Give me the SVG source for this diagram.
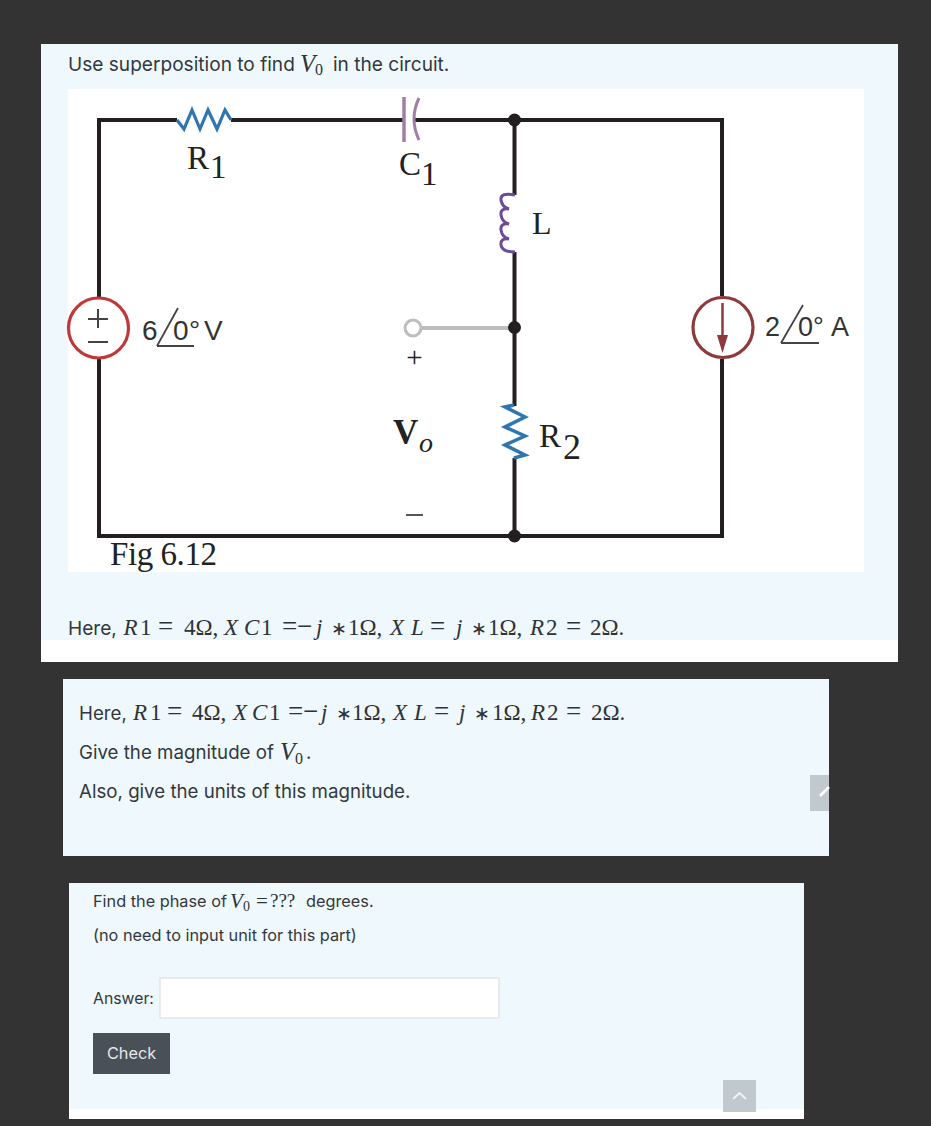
<svg xmlns="http://www.w3.org/2000/svg" width="931" height="1126" viewBox="0 0 931 1126">
<style>
.ui{font-family:Inter,"Liberation Sans",sans-serif;fill:#33383c}
.t1{font-size:19.1px}.t2{font-size:18.7px}.t3{font-size:16.3px}
.m{font-family:"Liberation Serif",serif;font-size:23px;fill:#2e3338}
.eq{font-size:27px}.st{font-size:19px}
.v{font-size:25px;font-style:italic}
.i{font-style:italic}.sub{font-size:16px}
.lab{font-family:"Liberation Serif",serif;fill:#222;font-size:33px}
.src{font-family:"Liberation Sans",sans-serif;fill:#333;font-size:28px}
.w{fill:none;stroke:#231f20;stroke-width:4}
.ang{fill:none;stroke:#444;stroke-width:1.800}
</style>
<rect width="931" height="1126" fill="#333333"/>
<g id="panel-top">
<rect x="41" y="44" width="857" height="618" fill="#fff"/>
<rect x="41" y="44" width="857" height="596" fill="#eff8fd"/>
<rect x="68" y="89" width="796" height="483" fill="#fff"/>
<text class="ui t1" x="68" y="71">Use superposition to find</text>
<text class="m v" x="300" y="72">V</text><text class="m sub" x="315" y="75">0</text>
<text class="ui t1" x="333" y="71">in the circuit.</text>
</g>
<g id="connectors">
<path class="w" d="M99 297V120H177M231 120H404M414 120H722V296M722 359V536H99V358"/>
<path class="w" d="M514.500 120V195M514.500 252V406M514.500 458V536"/>
<path d="M421 328H514" fill="none" stroke="#bdbdbd" stroke-width="4"/>
</g>
<g id="R1"><path d="M177 120L184 129L192 110L200 129L208 110L217 129L225 110L231 120" fill="none" stroke="#2f75b0" stroke-width="3.200"/>
<text class="lab" x="187" y="169">R</text><text class="lab" x="210" y="178">1</text></g>
<g id="C1"><path d="M404 97V142" stroke="#a07fa6" stroke-width="3.500" fill="none"/><path d="M419 98Q409 119 419 140" stroke="#a07fa6" stroke-width="3" fill="none"/>
<text class="lab" x="399" y="175">C</text><text class="lab" x="421" y="185">1</text></g>
<g id="L"><path d="M515 195Q500 192 501 200Q502 207 509 209Q500 208 501 215Q502 222 509 224Q500 223 501 230Q502 237 509 239Q500 238 501 245Q502 252 515 252" fill="none" stroke="#6b4c9a" stroke-width="3"/>
<text class="lab" x="532" y="234" style="font-size:32px">L</text></g>
<g id="R2"><path d="M514 405L505 407L525 417L505 427L525 436L505 445L525 455L514 458" fill="none" stroke="#2f75b0" stroke-width="3.500"/>
<text class="lab" x="539" y="447">R</text><text class="lab" x="563" y="459" style="font-size:36px">2</text></g>
<g id="node-top"><circle cx="514.500" cy="120" r="6.500" fill="#231f20"/></g>
<g id="node-mid"><circle cx="514.500" cy="327.500" r="6.500" fill="#231f20"/></g>
<g id="node-bottom"><circle cx="514.500" cy="536" r="6.500" fill="#231f20"/></g>
<g id="V-source"><circle cx="98.500" cy="328" r="30" fill="#fff" stroke="#c0383a" stroke-width="3.200"/>
<path d="M98 309V328M88 319H108M88 342H108" fill="none" stroke="#444" stroke-width="2"/>
<text class="src" x="142" y="340">6</text><path class="ang" d="M157 346H194M157 346L178 308"/><text class="src" x="173" y="340">0</text><text class="src" x="189" y="340">°</text><text class="src" x="204" y="340">V</text></g>
<g id="I-source"><circle cx="723" cy="327.500" r="30" fill="#fff" stroke="#8e3a3c" stroke-width="3.200"/>
<path d="M722.500 303V340" stroke="#8e3a3c" stroke-width="2.500" fill="none"/><path d="M717 335H728L722.500 353Z" fill="#8e3a3c"/>
<text class="src" x="765" y="336" style="font-size:27px">2</text><path class="ang" d="M781 343H819M781 343L803 305"/><text class="src" x="798" y="336" style="font-size:27px">0</text><text class="src" x="813" y="336" style="font-size:27px">°</text><text class="src" x="831" y="336" style="font-size:27px">A</text></g>
<g id="Vo-terminal"><circle cx="413" cy="328" r="8" fill="#fff" stroke="#bdbdbd" stroke-width="3"/>
<text class="lab" x="414.500" y="367" text-anchor="middle" style="font-size:29px">+</text>
<text class="lab" x="393" y="444" style="font-size:35px;font-weight:bold">V</text><text class="lab i" x="419" y="452" style="font-size:28px">o</text>
<path d="M406 515H423" stroke="#444" stroke-width="1.800"/></g>
<text id="fig" class="lab" x="110" y="565" textLength="107">Fig 6.12</text>
<g id="eq1">
<text class="ui t1" x="68" y="635">Here,</text>
<text class="m i" x="123.500" y="635">R</text><text class="m" x="140" y="635">1</text><text class="m eq" x="158" y="635">=</text><text class="m" x="184" y="635">4Ω,</text>
<text class="m i" x="224" y="635">X</text><text class="m i" x="244" y="635">C</text><text class="m" x="261" y="635">1</text><text class="m eq" x="282" y="635">=</text><text class="m eq" x="297" y="635">−</text><text class="m i" x="316" y="635">j</text><text class="m st" x="331" y="635">∗</text><text class="m" x="348" y="635">1Ω,</text>
<text class="m i" x="390" y="635">X</text><text class="m i" x="411" y="635">L</text><text class="m eq" x="430" y="635">=</text><text class="m i" x="456" y="635">j</text><text class="m st" x="471" y="635">∗</text><text class="m" x="488" y="635">1Ω,</text>
<text class="m i" x="530" y="635">R</text><text class="m" x="546" y="635">2</text><text class="m eq" x="566" y="635">=</text><text class="m" x="590" y="635">2Ω.</text>
</g>
<g id="panel-mid">
<rect x="63" y="679" width="766" height="177" fill="#eff8fd"/>
<rect x="810" y="775" width="19" height="36" fill="#c1c9cf"/>
<path d="M820 796L829 787" stroke="#fff" stroke-width="2.500" fill="none"/>
<text class="ui t2" x="79" y="720">Here,</text>
<text class="m i" x="133" y="720">R</text><text class="m" x="150" y="720">1</text><text class="m eq" x="167" y="720">=</text><text class="m" x="192" y="720">4Ω,</text>
<text class="m i" x="233" y="720">X</text><text class="m i" x="252" y="720">C</text><text class="m" x="269" y="720">1</text><text class="m eq" x="288" y="720">=</text><text class="m eq" x="303" y="720">−</text><text class="m i" x="321" y="720">j</text><text class="m st" x="336" y="720">∗</text><text class="m" x="352" y="720">1Ω,</text>
<text class="m i" x="393" y="720">X</text><text class="m i" x="414" y="720">L</text><text class="m eq" x="434" y="720">=</text><text class="m i" x="459" y="720">j</text><text class="m st" x="474" y="720">∗</text><text class="m" x="492" y="720">1Ω,</text>
<text class="m i" x="531" y="720">R</text><text class="m" x="547" y="720">2</text><text class="m eq" x="566" y="720">=</text><text class="m" x="591" y="720">2Ω.</text>
<text class="ui t2" x="79" y="759">Give the magnitude of</text>
<text class="m v" x="280" y="760">V</text><text class="m sub" x="295" y="764">0</text><text class="ui t2" x="306" y="759">.</text>
<text class="ui t2" x="79" y="798">Also, give the units of this magnitude.</text>
</g>
<g id="panel-bottom">
<rect x="69" y="883" width="735" height="236" fill="#fff"/>
<rect x="69" y="883" width="735" height="226" fill="#eff8fd"/>
<text class="ui t3" x="93" y="907">Find the phase of</text>
<text class="m i" x="230" y="908" style="font-size:21px">V</text><text class="m" x="243" y="911" style="font-size:14px">0</text>
<text class="m" x="256" y="908" style="font-size:21px">=</text><text class="m" x="270" y="907" style="font-size:19px">???</text>
<text class="ui t3" x="306" y="907">degrees.</text>
<text class="ui t3" x="93" y="941">(no need to input unit for this part)</text>
<text class="ui t3" x="93" y="1004" style="font-size:15.8px">Answer:</text>
<rect x="160" y="978" width="339" height="40" fill="#fff" stroke="#dfe3e6" stroke-width="1.300"/>
<rect x="93" y="1033" width="77" height="41" fill="#4a5058"/>
<text class="ui" x="131.500" y="1059" text-anchor="middle" style="fill:#e6e8ea;font-size:16.300px">Check</text>
<rect x="723" y="1080" width="33" height="32" fill="#c1c9cf"/>
<path d="M733 1099L739.500 1093L746 1099" stroke="#f0f2f3" stroke-width="2" fill="none"/>
</g>
</svg>
